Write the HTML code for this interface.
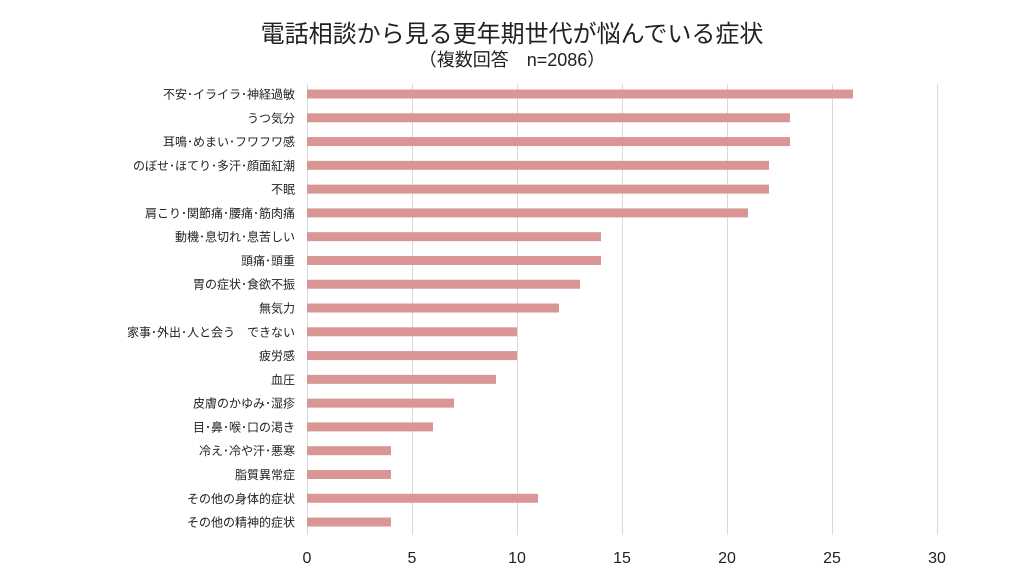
<!DOCTYPE html>
<html><head><meta charset="utf-8"><style>
html,body{margin:0;padding:0;background:#fff;}
body{width:1024px;height:576px;overflow:hidden;}
text{font-family:"Liberation Sans","Noto Sans CJK JP",sans-serif;fill:#222;}
</style></head><body>
<svg width="1024" height="576" xmlns="http://www.w3.org/2000/svg">
<text x="512" y="42" text-anchor="middle" font-size="24">電話相談から見る更年期世代が悩んでいる症状</text>
<text x="512" y="66" text-anchor="middle" font-size="18">（複数回答　n=2086）</text>
<g stroke="#d9d9d9" stroke-width="1">
<line x1="307.5" y1="84" x2="307.5" y2="535"/>
<line x1="412.5" y1="84" x2="412.5" y2="535"/>
<line x1="517.5" y1="84" x2="517.5" y2="535"/>
<line x1="622.5" y1="84" x2="622.5" y2="535"/>
<line x1="727.5" y1="84" x2="727.5" y2="535"/>
<line x1="832.5" y1="84" x2="832.5" y2="535"/>
<line x1="937.5" y1="84" x2="937.5" y2="535"/>
</g>
<g font-size="16" text-anchor="middle">
<text x="307" y="563">0</text><text x="412" y="563">5</text><text x="517" y="563">10</text><text x="622" y="563">15</text><text x="727" y="563">20</text><text x="832" y="563">25</text><text x="937" y="563">30</text>
</g>
<g id="bars" fill="#d99694"></g>
<g id="labels" font-size="12" text-anchor="end"></g>
<script>
var d=[["不安･イライラ･神経過敏",26],["うつ気分",23],["耳鳴･めまい･フワフワ感",23],["のぼせ･ほてり･多汗･顔面紅潮",22],["不眠",22],["肩こり･関節痛･腰痛･筋肉痛",21],["動機･息切れ･息苦しい",14],["頭痛･頭重",14],["胃の症状･食欲不振",13],["無気力",12],["家事･外出･人と会う　できない",10],["疲労感",10],["血圧",9],["皮膚のかゆみ･湿疹",7],["目･鼻･喉･口の渇き",6],["冷え･冷や汗･悪寒",4],["脂質異常症",4],["その他の身体的症状",11],["その他の精神的症状",4]];
var ns="http://www.w3.org/2000/svg",b=document.getElementById("bars"),l=document.getElementById("labels");
d.forEach(function(e,i){var y=94+i*23.78;
var r=document.createElementNS(ns,"rect");r.setAttribute("x",307);r.setAttribute("y",y-4.5);r.setAttribute("width",e[1]*21);r.setAttribute("height",9);b.appendChild(r);
var t=document.createElementNS(ns,"text");t.setAttribute("x",295);t.setAttribute("y",y+4.5);t.textContent=e[0];l.appendChild(t);});
</script>
</svg>
</body></html>
